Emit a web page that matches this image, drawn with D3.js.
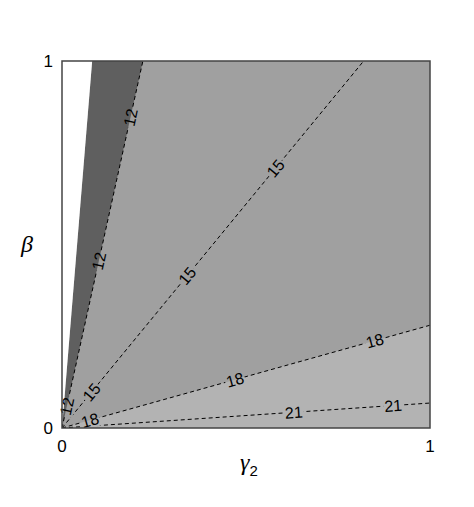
<!DOCTYPE html><html><head><script src="https://cdn.jsdelivr.net/npm/d3@7"></script>
<style>body{margin:0;background:#fff} text{font-family:"Liberation Sans",Arial,sans-serif}</style></head><body><svg id="c" width="474" height="507"></svg>
<script>
// contour rays beta = slope * gamma2
const levels=[12,15,18,21];
const slopes=[4.55,1.22,0.28,0.068];
const whiteSlope=12.2;
// label positions along each contour (gamma2 values)
const labelGammas=[[0.013,0.1,0.186],[0.08,0.34,0.58],[0.076,0.47,0.85],[0.63,0.9]];
const svg=d3.select("#c");
const x=d3.scaleLinear().domain([0,1]).range([62,430]);
const y=d3.scaleLinear().domain([0,1]).range([428,61]);
const defs=svg.append("defs");
defs.append("clipPath").attr("id","cp").append("rect").attr("x",x(0)).attr("y",y(1)).attr("width",x(1)-x(0)).attr("height",y(0)-y(1));
const mask=defs.append("mask").attr("id","mk");
mask.append("rect").attr("width",474).attr("height",507).attr("fill","#fff");
const g=svg.append("g").attr("clip-path","url(#cp)");
const poly=pts=>g.append("path").attr("d","M"+pts.map(p=>x(p[0])+","+y(p[1])).join("L")+"Z");
poly([[0,0],[1,0],[1,1],[0,1]]).attr("fill","#b3b3b3");
poly([[0,0],[1,slopes[2]],[1,1],[0,1]]).attr("fill","#a0a0a0");
poly([[0,0],[1/slopes[0],1],[1/whiteSlope,1]]).attr("fill","#5f5f5f");
poly([[0,0],[1/whiteSlope,1],[0,1]]).attr("fill","#fff");
const lg=g.append("g").attr("mask","url(#mk)");
levels.forEach((lv,i)=>{
  const s=slopes[i], ge=Math.min(1,1/s);
  lg.append("line").attr("x1",x(0)).attr("y1",y(0)).attr("x2",x(ge)).attr("y2",y(ge*s))
   .attr("stroke","#000").attr("stroke-width",1).attr("stroke-dasharray","4,3");
  const ang=Math.atan2(y(s)-y(0),x(1)-x(0))*180/Math.PI;
  labelGammas[i].forEach(gm=>{
    const px=x(gm),py=y(gm*s);
    const tr=`translate(${px},${py}) rotate(${ang})`;
    mask.append("rect").attr("transform",tr).attr("x",-10).attr("y",-8).attr("width",20).attr("height",16).attr("fill","#000");
    svg.append("text").attr("transform",tr).attr("text-anchor","middle").attr("dy","0.36em").attr("font-size",16).text(lv);
  });
});
svg.append("rect").attr("x",x(0)).attr("y",y(1)).attr("width",x(1)-x(0)).attr("height",y(0)-y(1)).attr("fill","none").attr("stroke","#444").attr("stroke-width",1.5);
svg.append("text").attr("x",53).attr("y",y(1)+6).attr("text-anchor","end").attr("font-size",17).text("1");
svg.append("text").attr("x",53).attr("y",y(0)+6).attr("text-anchor","end").attr("font-size",17).text("0");
svg.append("text").attr("x",x(0)).attr("y",452).attr("text-anchor","middle").attr("font-size",17).text("0");
svg.append("text").attr("x",x(1)).attr("y",452).attr("text-anchor","middle").attr("font-size",17).text("1");
svg.append("text").attr("x",27).attr("y",252).attr("text-anchor","middle").attr("style","font-family:'Liberation Serif';font-style:italic").attr("font-size",24).text("β");
const gl=svg.append("text").attr("x",240).attr("y",470).attr("style","font-family:'Liberation Serif';font-style:italic").attr("font-size",24).text("γ");
gl.append("tspan").attr("style","font-family:'Liberation Sans';font-style:normal").attr("font-size",15).attr("dy",6).text("2");
</script></body></html>
